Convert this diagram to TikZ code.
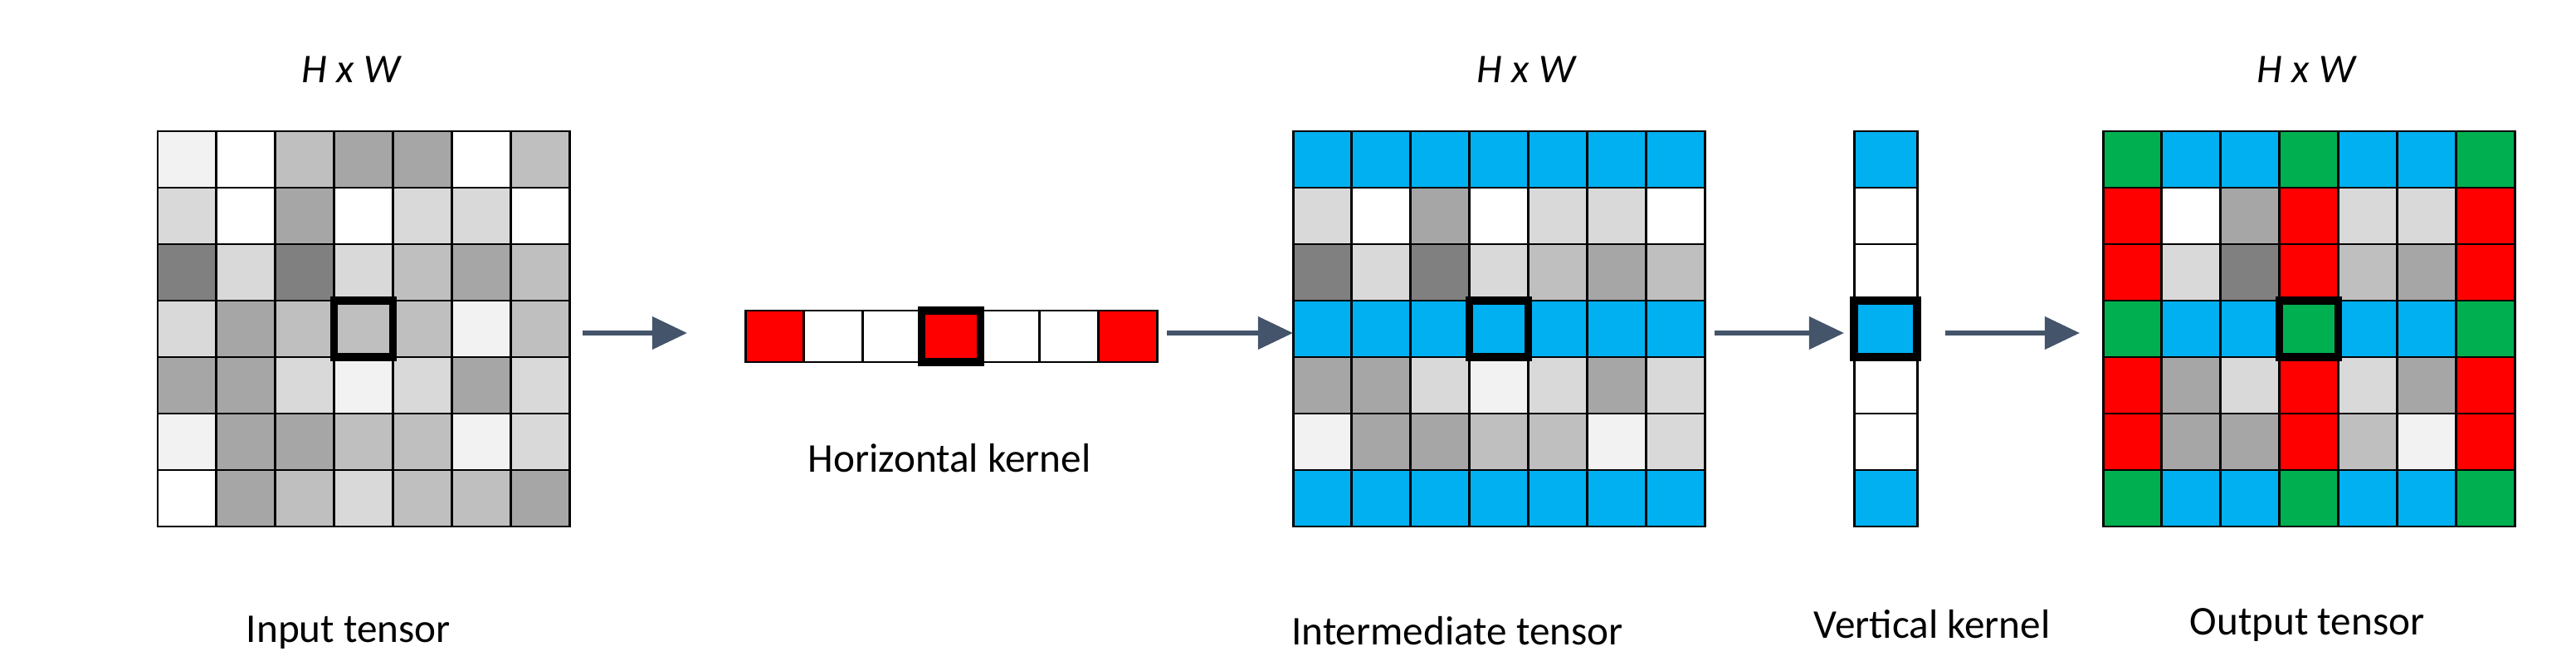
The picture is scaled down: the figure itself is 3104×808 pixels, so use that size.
\documentclass[tikz,border=0pt]{standalone}
\usepackage{fontspec}
\setmainfont{Carlito}
\usetikzlibrary{arrows.meta}
\definecolor{gw}{HTML}{FFFFFF}
\definecolor{ga}{HTML}{F2F2F2}
\definecolor{gb}{HTML}{D9D9D9}
\definecolor{gc}{HTML}{BFBFBF}
\definecolor{gd}{HTML}{A6A6A6}
\definecolor{ge}{HTML}{808080}
\definecolor{cb}{HTML}{00B0F0}
\definecolor{cr}{HTML}{FF0000}
\definecolor{cg}{HTML}{00B050}
\definecolor{arr}{HTML}{44546A}
\newcommand\tgrid[5]{%
 \foreach \row [count=\r] in {#5} {\foreach \cc [count=\k] in \row {
   \filldraw[fill=\cc, draw=black, line width=0.85pt] ({#1+(\k-1)*#3},{#2+(\r-1)*#4}) rectangle ++(#3,#4);}}}
\tikzset{
 lab/.style={font=\fontsize{14}{16}\selectfont, inner sep=0},
 hl/.style={draw=black, line width=2.6pt},
 conn/.style={draw=arr, line width=1.6pt, -{Triangle[length=12pt,width=11pt]}},
 box/.style={inner sep=0, minimum width=#1}
}
\begin{document}
\begin{tikzpicture}[x=0.1mm,y=-0.1mm]
\useasboundingbox (0,0) rectangle (3104,808);
% input
\tgrid{190}{158}{70.86}{68}{{ga,gw,gc,gd,gd,gw,gc},{gb,gw,gd,gw,gb,gb,gw},{ge,gb,ge,gb,gc,gd,gc},{gb,gd,gc,gc,gc,ga,gc},{gd,gd,gb,ga,gb,gd,gb},{ga,gd,gd,gc,gc,ga,gb},{gw,gd,gc,gb,gc,gc,gd}}
\draw[hl] (402.6,362) rectangle ++(70.86,68);
% horizontal kernel
\tgrid{898}{374}{70.86}{62}{{cr,gw,gw,cr,gw,gw,cr}}
\draw[hl] (1110.6,374) rectangle ++(70.86,62);
% intermediate
\tgrid{1558}{158}{70.86}{68}{{cb,cb,cb,cb,cb,cb,cb},{gb,gw,gd,gw,gb,gb,gw},{ge,gb,ge,gb,gc,gd,gc},{cb,cb,cb,cb,cb,cb,cb},{gd,gd,gb,ga,gb,gd,gb},{ga,gd,gd,gc,gc,ga,gb},{cb,cb,cb,cb,cb,cb,cb}}
\draw[hl] (1770.6,362) rectangle ++(70.86,68);
% vertical kernel
\tgrid{2234}{158}{76}{68}{{cb},{gw},{gw},{cb},{gw},{gw},{cb}}
\draw[hl] (2234,362) rectangle ++(76,68);
% output
\tgrid{2534}{158}{70.86}{68}{{cg,cb,cb,cg,cb,cb,cg},{cr,gw,gd,cr,gb,gb,cr},{cr,gb,ge,cr,gc,gd,cr},{cg,cb,cb,cg,cb,cb,cg},{cr,gd,gb,cr,gb,gd,cr},{cr,gd,gd,cr,gc,ga,cr},{cg,cb,cb,cg,cb,cb,cg}}
\draw[hl] (2746.6,362) rectangle ++(70.86,68);
% named coordinates for connectors
\coordinate (a1s) at (702,401); \coordinate (a1e) at (828,401);
\coordinate (a2s) at (1406,401); \coordinate (a2e) at (1558,401);
\coordinate (a3s) at (2066,401); \coordinate (a3e) at (2222,401);
\coordinate (a4s) at (2344,401); \coordinate (a4e) at (2506,401);
\draw[conn] (a1s) -- (a1e);
\draw[conn] (a2s) -- (a2e);
\draw[conn] (a3s) -- (a3e);
\draw[conn] (a4s) -- (a4e);
% labels
\node[lab] (t1) at (424,84) {\textit{H x W}};
\node[lab] (t2) at (1840,84) {\textit{H x W}};
\node[lab] (t3) at (2780,84) {\textit{H x W}};
\node[lab] (l1) at (420,762) {Input tensor};
\node[lab] (l2) at (1144,552) {Horizontal kernel};
\node[lab] (l3) at (1756,760) {Intermediate tensor};
\node[lab] (l4) at (2328,752) {Vertical kernel};
\node[lab] (l5) at (2780,752) {Output tensor};
\end{tikzpicture}
\end{document}
